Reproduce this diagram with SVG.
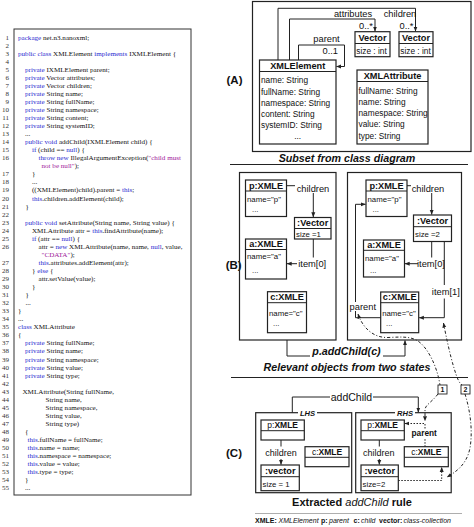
<svg xmlns="http://www.w3.org/2000/svg" width="474" height="527" viewBox="0 0 474 527">
<defs>
<marker id="ar" viewBox="0 0 8 8" refX="7.5" refY="4" markerWidth="5" markerHeight="5" orient="auto-start-reverse" markerUnits="userSpaceOnUse"><path d="M0,0.8 L8,4 L0,7.2 z" fill="#222"/></marker>
<style>
.code{font-family:"Liberation Serif","Times New Roman",serif;font-size:7.1px;fill:#111}
.kw{fill:#2a2ad0}
.str{fill:#a0209a}
.ln{font-family:"Liberation Serif","Times New Roman",serif;font-size:7px;fill:#333;text-anchor:end}
.s{font-family:"Liberation Sans",Arial,sans-serif;fill:#111}
.hd{font-weight:bold;font-size:9.2px;text-anchor:middle}
.at{font-size:8.3px}
.lb{font-size:9.3px}
.ob{font-size:7.8px}
.cap{font-weight:bold;font-style:italic;font-size:10.7px;text-anchor:middle}
.pl{font-weight:bold;font-size:11.5px;text-anchor:middle}
.bx{fill:#fff;stroke:#222;stroke-width:1.2}
.fr{fill:none;stroke:#222;stroke-width:1.2}
.dv{stroke:#222;stroke-width:1}
.c{fill:none;stroke:#222;stroke-width:1}
.dot{stroke-dasharray:1.5 1.5}
.dd{stroke-dasharray:3 2 1 2}
.ch{font-size:8.5px;text-anchor:middle}
</style>
</defs>
<rect width="474" height="527" fill="#fff"/>

<!-- Code listing -->
<g id="code-listing">
<rect x="14" y="29" width="177" height="466" fill="#fff" stroke="#333" stroke-width="1"/>
<text class="ln">
<tspan x="9" y="39.5">1</tspan><tspan x="9" y="47.55">2</tspan><tspan x="9" y="55.6">3</tspan><tspan x="9" y="63.65">4</tspan><tspan x="9" y="71.7">5</tspan><tspan x="9" y="79.75">6</tspan><tspan x="9" y="87.8">7</tspan><tspan x="9" y="95.85">8</tspan><tspan x="9" y="103.9">9</tspan><tspan x="9" y="111.95">10</tspan><tspan x="9" y="120">11</tspan><tspan x="9" y="128.05">12</tspan><tspan x="9" y="136.1">13</tspan><tspan x="9" y="144.15">14</tspan><tspan x="9" y="152.2">15</tspan><tspan x="9" y="160.25">16</tspan><tspan x="9" y="176.35">17</tspan><tspan x="9" y="184.4">18</tspan><tspan x="9" y="192.45">19</tspan><tspan x="9" y="200.5">20</tspan><tspan x="9" y="208.55">21</tspan><tspan x="9" y="216.6">22</tspan><tspan x="9" y="224.65">23</tspan><tspan x="9" y="232.7">24</tspan><tspan x="9" y="240.75">25</tspan><tspan x="9" y="248.8">26</tspan><tspan x="9" y="264.9">27</tspan><tspan x="9" y="272.95">28</tspan><tspan x="9" y="281">29</tspan><tspan x="9" y="289.05">30</tspan><tspan x="9" y="297.1">31</tspan><tspan x="9" y="305.15">32</tspan><tspan x="9" y="313.2">33</tspan><tspan x="9" y="321.25">34</tspan><tspan x="9" y="329.3">35</tspan><tspan x="9" y="337.35">36</tspan><tspan x="9" y="345.4">37</tspan><tspan x="9" y="353.45">38</tspan><tspan x="9" y="361.5">39</tspan><tspan x="9" y="369.55">40</tspan><tspan x="9" y="377.6">41</tspan><tspan x="9" y="385.65">42</tspan><tspan x="9" y="393.7">43</tspan><tspan x="9" y="401.75">44</tspan><tspan x="9" y="409.8">45</tspan><tspan x="9" y="417.85">46</tspan><tspan x="9" y="425.9">47</tspan><tspan x="9" y="433.95">48</tspan><tspan x="9" y="442">49</tspan><tspan x="9" y="450.05">50</tspan><tspan x="9" y="458.1">51</tspan><tspan x="9" y="466.15">52</tspan><tspan x="9" y="474.2">53</tspan><tspan x="9" y="482.25">54</tspan><tspan x="9" y="490.3">55</tspan>
</text>
<g class="code">
<text x="18" y="39.5"><tspan class="kw">package</tspan> net.n3.nanoxml;</text>
<text x="18" y="55.6"><tspan class="kw">public class</tspan> XMLElement <tspan class="kw">implements</tspan> IXMLElement {</text>
<text x="25" y="71.7"><tspan class="kw">private</tspan> IXMLElement parent;</text>
<text x="25" y="79.75"><tspan class="kw">private</tspan> Vector attributes;</text>
<text x="25" y="87.8"><tspan class="kw">private</tspan> Vector children;</text>
<text x="25" y="95.85"><tspan class="kw">private</tspan> String name;</text>
<text x="25" y="103.9"><tspan class="kw">private</tspan> String fullName;</text>
<text x="25" y="111.95"><tspan class="kw">private</tspan> String namespace;</text>
<text x="25" y="120"><tspan class="kw">private</tspan> String content;</text>
<text x="25" y="128.05"><tspan class="kw">private</tspan> String systemID;</text>
<text x="25" y="136.1">...</text>
<text x="25" y="144.15"><tspan class="kw">public void</tspan> addChild(IXMLElement child) {</text>
<text x="32" y="152.2"><tspan class="kw">if</tspan> (child == <tspan class="kw">null</tspan>) {</text>
<text x="38.5" y="160.25"><tspan class="kw">throw new</tspan> IllegalArgumentException(<tspan class="str">"child must</tspan></text>
<text x="41.5" y="168.3"><tspan class="str">not be null"</tspan>);</text>
<text x="32" y="176.35">}</text>
<text x="32" y="184.4">...</text>
<text x="32" y="192.45">((XMLElement)child).parent = <tspan class="kw">this</tspan>;</text>
<text x="32" y="200.5"><tspan class="kw">this</tspan>.children.addElement(child);</text>
<text x="25.5" y="208.55">}</text>
<text x="25" y="224.65"><tspan class="kw">public void</tspan> setAttribute(String name, String value) {</text>
<text x="32" y="232.7">XMLAttribute attr = <tspan class="kw">this</tspan>.findAttribute(name);</text>
<text x="32" y="240.75"><tspan class="kw">if</tspan> (attr == <tspan class="kw">null</tspan>) {</text>
<text x="38.5" y="248.8">attr = <tspan class="kw">new</tspan> XMLAttribute(name, name, <tspan class="kw">null</tspan>, value,</text>
<text x="41.5" y="256.85"><tspan class="str">"CDATA"</tspan>);</text>
<text x="38.5" y="264.9"><tspan class="kw">this</tspan>.attributes.addElement(attr);</text>
<text x="32" y="272.95">} <tspan class="kw">else</tspan> {</text>
<text x="38.5" y="281">attr.setValue(value);</text>
<text x="32" y="289.05">}</text>
<text x="25.5" y="297.1">}</text>
<text x="25.5" y="305.15">...</text>
<text x="18" y="313.2">}</text>
<text x="18" y="321.25">...</text>
<text x="18" y="329.3"><tspan class="kw">class</tspan> XMLAttribute</text>
<text x="18" y="337.35">{</text>
<text x="25" y="345.4"><tspan class="kw">private</tspan> String fullName;</text>
<text x="25" y="353.45"><tspan class="kw">private</tspan> String name;</text>
<text x="25" y="361.5"><tspan class="kw">private</tspan> String namespace;</text>
<text x="25" y="369.55"><tspan class="kw">private</tspan> String value;</text>
<text x="25" y="377.6"><tspan class="kw">private</tspan> String type;</text>
<text x="22.5" y="393.7">XMLAttribute(String fullName,</text>
<text x="45.5" y="401.75">String name,</text>
<text x="45.5" y="409.8">String namespace,</text>
<text x="45.5" y="417.85">String value,</text>
<text x="45.5" y="425.9">String type)</text>
<text x="25" y="433.95">{</text>
<text x="27.5" y="442"><tspan class="kw">this</tspan>.fullName = fullName;</text>
<text x="27.5" y="450.05"><tspan class="kw">this</tspan>.name = name;</text>
<text x="27.5" y="458.1"><tspan class="kw">this</tspan>.namespace = namespace;</text>
<text x="27.5" y="466.15"><tspan class="kw">this</tspan>.value = value;</text>
<text x="27.5" y="474.2"><tspan class="kw">this</tspan>.type = type;</text>
<text x="25" y="482.25">}</text>
<text x="25" y="490.3">...</text>
</g>
</g>

<!-- Panel A -->
<g id="panel-A">
<rect class="fr" x="252.5" y="1.5" width="218.5" height="150" stroke-width="1.5"/>
<text class="s pl" x="234.5" y="84">(A)</text>
<text class="s cap" x="347" y="161.5">Subset from class diagram</text>
<line class="dv" x1="230" y1="164.5" x2="468" y2="164.5"/>
</g>
<g id="XMLElement">
<rect class="bx" x="259.5" y="60" width="76.5" height="84"/>
<line class="dv" x1="259.5" y1="71.5" x2="336" y2="71.5"/>
<text class="s hd" x="297.7" y="69.3">XMLElement</text>
<text class="s at" x="261" y="83.3">name: String</text>
<text class="s at" x="261" y="94.5">fullName: String</text>
<text class="s at" x="261" y="105.7">namespace: String</text>
<text class="s at" x="261" y="116.9">content: String</text>
<text class="s at" x="261" y="128.1">systemID: String</text>
<text class="s at" x="297.7" y="138.5" text-anchor="middle">...</text>
</g>
<g id="XMLAttribute">
<rect class="bx" x="357" y="70" width="71" height="74"/>
<line class="dv" x1="357" y1="81.5" x2="428" y2="81.5"/>
<text class="s hd" x="392.5" y="79.3">XMLAttribute</text>
<text class="s at" x="358.5" y="93.7">fullName: String</text>
<text class="s at" x="358.5" y="104.9">name: String</text>
<text class="s at" x="358.5" y="116.1">namespace: String</text>
<text class="s at" x="358.5" y="127.3">value: String</text>
<text class="s at" x="358.5" y="138.5">type: String</text>
</g>
<g id="Vector-attributes">
<rect class="bx" x="355" y="31.7" width="35" height="25"/>
<line class="dv" x1="355" y1="43.5" x2="390" y2="43.5"/>
<text class="s hd" x="372.5" y="41.2">Vector</text>
<text class="s at" x="356.3" y="54.3" font-size="8">size : int</text>
</g>
<g id="Vector-children">
<rect class="bx" x="399" y="31.7" width="34" height="25"/>
<line class="dv" x1="399" y1="43.5" x2="433" y2="43.5"/>
<text class="s hd" x="416" y="41.2">Vector</text>
<text class="s at" x="400.3" y="54.3" font-size="8">size : int</text>
</g>

<!-- Panel B -->
<g id="panel-B">
<text class="s pl" x="233.7" y="269">(B)</text>
<rect class="fr" x="239.5" y="172.5" width="96.5" height="167.5"/>
<rect class="fr" x="347.5" y="172.5" width="114" height="167.5"/>
<text class="s cap" x="347" y="371">Relevant objects from two states</text>
<line class="dv" x1="231" y1="377.5" x2="468" y2="377.5"/>
</g>
<g id="B1-p">
<rect class="bx" x="245.5" y="180" width="41" height="36.5"/>
<line class="dv" x1="245.5" y1="191" x2="286.5" y2="191"/>
<text class="s hd" x="266" y="188.7">p:XMLE</text>
<text class="s ob" x="247" y="202">name="p"</text>
<text class="s ob" x="252" y="211.5">...</text>
</g>
<g id="B1-vector">
<rect class="bx" x="294.5" y="217.5" width="36.5" height="21.5"/>
<line class="dv" x1="294.5" y1="228.5" x2="331" y2="228.5"/>
<text class="s hd" x="312.7" y="226.2">:Vector</text>
<text class="s ob" x="296" y="236.8">size =1</text>
</g>
<g id="B1-a">
<rect class="bx" x="245.5" y="239" width="41" height="40"/>
<line class="dv" x1="245.5" y1="249.5" x2="286.5" y2="249.5"/>
<text class="s hd" x="266" y="247.3">a:XMLE</text>
<text class="s ob" x="247" y="258.5">name="a"</text>
<text class="s ob" x="252" y="272.5">...</text>
</g>
<g id="B1-c">
<rect class="bx" x="267.5" y="291.7" width="39" height="41"/>
<line class="dv" x1="267.5" y1="302.7" x2="306.5" y2="302.7"/>
<text class="s hd" x="287" y="300.3">c:XMLE</text>
<text class="s ob" x="269" y="315.5">name="c"</text>
<text class="s ob" x="273" y="326">...</text>
</g>
<g id="B2-p">
<rect class="bx" x="366" y="180" width="41" height="36.5"/>
<line class="dv" x1="366" y1="191" x2="407" y2="191"/>
<text class="s hd" x="386.5" y="188.7">p:XMLE</text>
<text class="s ob" x="367.5" y="202">name="p"</text>
<text class="s ob" x="372.5" y="211.5">...</text>
</g>
<g id="B2-vector">
<rect class="bx" x="413.5" y="215" width="38" height="26.5"/>
<line class="dv" x1="413.5" y1="226.7" x2="451.5" y2="226.7"/>
<text class="s hd" x="432.5" y="224.3">:Vector</text>
<text class="s ob" x="415" y="237.3">size =2</text>
</g>
<g id="B2-a">
<rect class="bx" x="363.5" y="240" width="41" height="37"/>
<line class="dv" x1="363.5" y1="250.3" x2="404.5" y2="250.3"/>
<text class="s hd" x="384" y="248">a:XMLE</text>
<text class="s ob" x="365" y="261">name="a"</text>
<text class="s ob" x="370" y="273">...</text>
</g>
<g id="B2-c">
<rect class="bx" x="380.7" y="292" width="38" height="40.7"/>
<line class="dv" x1="380.7" y1="302.7" x2="418.7" y2="302.7"/>
<text class="s hd" x="399.7" y="300.3">c:XMLE</text>
<text class="s ob" x="382.2" y="315.5">name="c"</text>
<text class="s ob" x="386" y="326">...</text>
</g>

<!-- Panel C -->
<g id="panel-C">
<text class="s pl" x="234" y="456.7">(C)</text>
<text class="s" x="352" y="505.5" font-size="11" text-anchor="middle"><tspan font-weight="bold">Extracted </tspan><tspan font-style="italic">addChild</tspan><tspan font-weight="bold"> rule</tspan></text>
<line x1="255" y1="513.5" x2="462" y2="513.5" stroke="#999" stroke-width="0.8"/>
<text class="s" y="522.5" font-size="7"><tspan x="255" font-weight="bold">XMLE:</tspan><tspan x="278.5" font-style="italic">XMLElement</tspan><tspan x="321" font-weight="bold">p:</tspan><tspan x="329" font-style="italic">parent</tspan><tspan x="353.5" font-weight="bold">c:</tspan><tspan x="361" font-style="italic">child</tspan><tspan x="379" font-weight="bold">vector:</tspan><tspan x="403.5" font-style="italic">class-collection</tspan></text>
</g>
<g id="LHS">
<rect class="fr" x="255.7" y="412.7" width="96" height="80"/>
<rect x="298" y="409" width="19" height="7" fill="#fff"/>
<text class="s" x="307.5" y="415.5" font-size="7.6" font-weight="bold" font-style="italic" text-anchor="middle">LHS</text>
</g>
<g id="LHS-p">
<rect class="bx" x="261" y="420" width="43.3" height="20"/>
<line class="dv" x1="261" y1="430.7" x2="304.3" y2="430.7"/>
<text class="s ch" x="282.7" y="428.4">p:<tspan font-weight="bold">XMLE</tspan></text>
</g>
<g id="LHS-vector">
<rect class="bx" x="261" y="465" width="38.3" height="25.7"/>
<line class="dv" x1="261" y1="476.7" x2="299.3" y2="476.7"/>
<text class="s hd" x="280.2" y="474.2">:vector</text>
<text class="s ob" x="262.5" y="487.2" font-size="8.2">size = 1</text>
</g>
<g id="LHS-c">
<rect class="bx" x="305" y="446.7" width="44" height="20"/>
<line class="dv" x1="305" y1="457.3" x2="349" y2="457.3"/>
<text class="s ch" x="327" y="455">c:<tspan font-weight="bold">XMLE</tspan></text>
</g>
<g id="RHS">
<rect class="fr" x="355.7" y="412.7" width="95.5" height="80"/>
<rect x="395" y="409" width="20" height="7" fill="#fff"/>
<text class="s" x="405" y="415.5" font-size="7.6" font-weight="bold" font-style="italic" text-anchor="middle">RHS</text>
</g>
<g id="RHS-p">
<rect class="bx" x="361" y="420" width="43.3" height="20"/>
<line class="dv" x1="361" y1="430.7" x2="404.3" y2="430.7"/>
<text class="s ch" x="382.7" y="428.4">p:<tspan font-weight="bold">XMLE</tspan></text>
</g>
<g id="RHS-vector">
<rect class="bx" x="361" y="465" width="37.3" height="25.7"/>
<line class="dv" x1="361" y1="476.7" x2="398.3" y2="476.7"/>
<text class="s hd" x="379.7" y="474.2">:vector</text>
<text class="s ob" x="362.5" y="487.2" font-size="8.2">size=2</text>
</g>
<g id="RHS-c">
<rect class="bx" x="404.3" y="446.7" width="44" height="20"/>
<line class="dv" x1="404.3" y1="457.3" x2="448.3" y2="457.3"/>
<text class="s ch" x="426.3" y="455">c:<tspan font-weight="bold">XMLE</tspan></text>
</g>
<g id="mapping-boxes">
<rect x="438" y="385" width="9" height="9" fill="#fff" stroke="#222" stroke-width="0.9"/>
<text class="s" x="442.5" y="392" font-size="7" font-weight="bold" text-anchor="middle">1</text>
<rect x="461" y="385" width="9" height="9" fill="#fff" stroke="#222" stroke-width="0.9"/>
<text class="s" x="465.5" y="392" font-size="7" font-weight="bold" text-anchor="middle">2</text>
</g>

<!-- Connectors -->
<g id="connectors">
<!-- A -->
<path class="c" d="M278,60 V8.3 H415.5 V31.2" marker-end="url(#ar)"/>
<path class="c" d="M289.5,60 V19 H375 V31.2" marker-end="url(#ar)"/>
<path class="c" d="M298.5,60 V45 H344.5 V66.5 H336.5" marker-end="url(#ar)"/>
<text class="s lb" x="353" y="17" text-anchor="middle">attributes</text>
<text class="s lb" x="400" y="17" text-anchor="middle">children</text>
<text class="s lb" x="373" y="28.5" text-anchor="end">0..*</text>
<text class="s lb" x="413.5" y="28.5" text-anchor="end">0..*</text>
<text class="s lb" x="326.5" y="42" text-anchor="middle">parent</text>
<text class="s lb" x="338" y="54" text-anchor="end">0..1</text>
<!-- B left -->
<path class="c" d="M286.5,185.7 H295"/>
<text class="s lb" x="296.7" y="191.5">children</text>
<path class="c" d="M313.3,193 V217" marker-end="url(#ar)"/>
<path class="c" d="M313.3,239 V257.5"/>
<text class="s lb" x="312.2" y="267" text-anchor="middle">item[0]</text>
<path class="c" d="M297,263.7 H287" marker-end="url(#ar)"/>
<!-- B right -->
<path class="c" d="M407,185.7 H411"/>
<text class="s lb" x="411.7" y="191.5">children</text>
<path class="c" d="M431.7,193 V214.5" marker-end="url(#ar)"/>
<path class="c" d="M431.7,241.5 V257.5"/>
<text class="s lb" x="431" y="267" text-anchor="middle">item[0]</text>
<path class="c" d="M418,263.7 H405" marker-end="url(#ar)"/>
<path class="c" d="M444.3,241.5 V285"/>
<text class="s lb" x="445.8" y="295" text-anchor="middle">item[1]</text>
<path class="c" d="M444.3,298.5 V317.7 H419.2" marker-end="url(#ar)"/>
<path class="c" d="M380.7,317.7 H355.5 V204.3 H365.5" marker-end="url(#ar)"/>
<rect x="350" y="302" width="26" height="9" fill="#fff"/>
<text class="s lb" x="362.8" y="309.8" text-anchor="middle">parent</text>
<!-- p.addChild(c) -->
<path class="c" d="M287,340 V356 H310"/>
<path class="c" d="M383,356 H405 V340.5" marker-end="url(#ar)"/>
<text class="s cap" x="346.5" y="355" font-size="11">p.addChild(c)</text>
<!-- addChild -->
<path class="c" d="M292.3,412.7 V397 H330"/>
<path class="c" d="M373,397 H418.3 V412.2" marker-end="url(#ar)"/>
<text class="s" x="351.5" y="400.8" font-size="10.5" text-anchor="middle">addChild</text>
<!-- C LHS -->
<path class="c" d="M281,440 V446.5"/>
<text class="s" x="281" y="455.8" font-size="9" text-anchor="middle">children</text>
<path class="c" d="M281,459 V464.5" marker-end="url(#ar)"/>
<!-- C RHS -->
<path class="c" d="M379.3,440 V446.5"/>
<text class="s" x="378.8" y="455.8" font-size="9" text-anchor="middle">children</text>
<path class="c" d="M379.3,459 V464.5" marker-end="url(#ar)"/>
<path class="c dot" d="M425,446.7 V438.5"/>
<path class="c dot" d="M425,428.5 V423.5 H404.8" marker-end="url(#ar)"/>
<text class="s" x="424.2" y="435.8" font-size="8.3" font-weight="bold" text-anchor="middle">parent</text>
<path class="c dot" d="M398.3,480.5 H441.7 V467.2" marker-end="url(#ar)"/>
<!-- mapping lines -->
<path class="c dd" d="M358,314 C362,326 372,338 388,337.5 C400,337 410,336 418,341 C428,348 437,366 440,385" marker-start="url(#ar)"/>
<path class="c dd" d="M438,394 C432,402 425,405 425,410 V421" marker-end="url(#ar)"/>
<path class="c dd" d="M443.5,323 C446,336 450,355 454,368 C457,378 459,383 462,385" marker-start="url(#ar)"/>
<path class="c dd" d="M465,394 C470,410 473,430 470,448 C467,463 458,471 447,477" marker-end="url(#ar)"/>
</g>
</svg>
